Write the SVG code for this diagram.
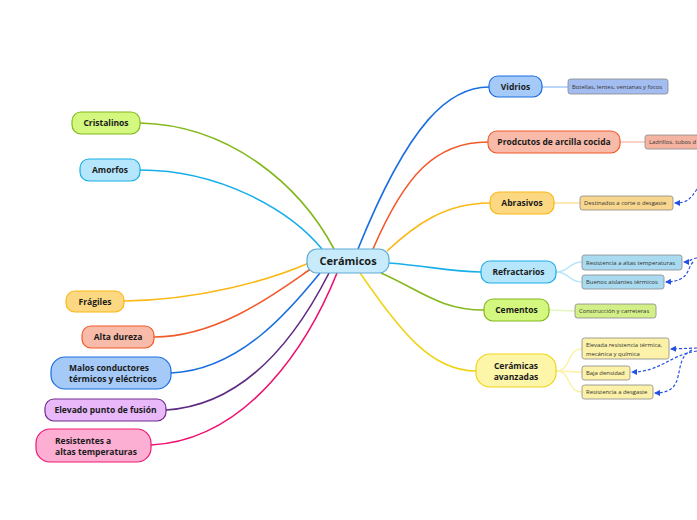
<svg xmlns="http://www.w3.org/2000/svg" width="697" height="520" viewBox="0 0 697 520">
<defs>
<style>
.lbl{font-family:"Open Sans","Noto Sans","DejaVu Sans",sans-serif;font-weight:bold;font-size:8.5px;fill:#1a1a1a;text-anchor:middle}
.lbl-l{text-anchor:start}
.sub{font-family:"Open Sans","Noto Sans","DejaVu Sans",sans-serif;font-size:5.9px;fill:#333;text-anchor:start}
.box{stroke:#888;stroke-width:0.8}
.con{fill:none;stroke-width:1.6}
.sc{fill:none;stroke-width:1.6}
.dash{fill:none;stroke:#2450e6;stroke-width:1.2;stroke-dasharray:3 2}
</style>
<marker id="arr" viewBox="0 0 6 6" refX="5" refY="3" markerWidth="5" markerHeight="5" orient="auto">
<path d="M0,0 L6,3 L0,6 z" fill="#2450e6"/>
</marker>
</defs>
<rect width="697" height="520" fill="#fff"/>
<g id="connectors">
<path class="con" stroke="#1a6fe0" d="M358,249 C410,120 450,87 489,87"/>
<path class="con" stroke="#f25a2a" d="M373,249 C405,175 435,142 488,142"/>
<path class="con" stroke="#fbb814" d="M387,251 C415,225 445,203 490,203"/>
<path class="con" stroke="#18aee8" d="M389,263 C430,266 450,272 481,272"/>
<path class="con" stroke="#84b81c" d="M381,273 C420,290 440,310 484,310"/>
<path class="con" stroke="#f0d41a" d="M360,273 C400,330 430,371 476,371"/>
<path class="con" stroke="#84b81c" d="M140,123 C230,125 300,185 334,249"/>
<path class="con" stroke="#18aee8" d="M140,170 C220,170 290,210 322,249"/>
<path class="con" stroke="#fbb814" d="M124,301 C200,300 270,280 309,263"/>
<path class="con" stroke="#f25a2a" d="M154,337 C220,337 280,290 312,268"/>
<path class="con" stroke="#1a6fe0" d="M171,373 C240,370 290,310 320,273"/>
<path class="con" stroke="#5e2a84" d="M166,410 C250,405 300,330 329,273"/>
<path class="con" stroke="#f0106e" d="M151,445 C250,440 310,340 337,273"/>
<path class="sc" stroke="#a9cdf8" d="M542,87 L568,87"/>
<path class="sc" stroke="#f9c8b8" d="M620,142 L645,142"/>
<path class="sc" stroke="#fde3a0" d="M554,203 L580,203"/>
<path class="sc" stroke="#b5e6fb" d="M556,272 C570,272 568,262 582,262"/>
<path class="sc" stroke="#b5e6fb" d="M556,272 C570,272 568,282 582,282"/>
<path class="sc" stroke="#e4f5bd" d="M549,310 L575,311"/>
<path class="sc" stroke="#fdf2a8" d="M556,371 C572,371 566,349 582,349"/>
<path class="sc" stroke="#fdf2a8" d="M556,371 C572,371 566,372 582,372"/>
<path class="sc" stroke="#fdf2a8" d="M556,371 C572,371 566,392 582,392"/>
<path class="dash" marker-end="url(#arr)" d="M697,189 C690,200 686,203 675,203"/>
<path class="dash" marker-end="url(#arr)" d="M697,258 C692,258 690,262 684,262"/>
<path class="dash" marker-end="url(#arr)" d="M693,262 C686,270 690,281 666,282"/>
<path class="dash" marker-end="url(#arr)" d="M697,348 L671,349"/>
<path class="dash" marker-end="url(#arr)" d="M697,351 C670,355 660,372 632,372"/>
<path class="dash" marker-end="url(#arr)" d="M692,350 C670,360 690,393 655,393"/>
</g>
<g id="n-ceramicos">
<rect x="307" y="249" width="82" height="24" rx="10" fill="#c8ebfb" stroke="#5fa9d6" stroke-width="1.2"/>
<text class="lbl" x="348" y="265" style="font-size:11px">Cerámicos</text>
</g>
<g id="n-vidrios">
<rect x="489" y="76" width="53" height="21" rx="9" fill="#a6caf8" stroke="#1a6fe0" stroke-width="1.2"/>
<text class="lbl" x="515.5" y="90">Vidrios</text>
</g>
<g id="n-vidrios-1">
<rect class="box" x="568" y="79" width="100" height="15" rx="2.5" fill="#a3bdf0"/>
<text class="sub" x="572" y="88.5">Botellas, lentes, ventanas y focos</text>
</g>
<g id="n-arcilla">
<rect x="488" y="131" width="132" height="22" rx="9" fill="#f8bba9" stroke="#f25a2a" stroke-width="1.2"/>
<text class="lbl" x="554" y="145">Prodcutos de arcilla cocida</text>
</g>
<g id="n-arcilla-1">
<rect class="box" x="645" y="135" width="70" height="14" rx="2.5" fill="#f5b4a2"/>
<text class="sub" x="649" y="144">Ladrillos, tubos d</text>
</g>
<g id="n-abrasivos">
<rect x="490" y="192" width="64" height="22" rx="9" fill="#fdd883" stroke="#fbb814" stroke-width="1.2"/>
<text class="lbl" x="522" y="206">Abrasivos</text>
</g>
<g id="n-abrasivos-1">
<rect class="box" x="580" y="196" width="93" height="14" rx="2.5" fill="#f8d68e"/>
<text class="sub" x="584" y="205">Destinados a corte o desgaste</text>
</g>
<g id="n-refractarios">
<rect x="481" y="261" width="75" height="22" rx="9" fill="#b5e6fb" stroke="#18aee8" stroke-width="1.2"/>
<text class="lbl" x="518.5" y="275">Refractarios</text>
</g>
<g id="n-refractarios-1">
<rect class="box" x="582" y="255" width="100" height="15" rx="2.5" fill="#a9daf0"/>
<text class="sub" x="586" y="264.5">Resistencia a altas temperaturas</text>
</g>
<g id="n-refractarios-2">
<rect class="box" x="582" y="275" width="82" height="14" rx="2.5" fill="#a9daf0"/>
<text class="sub" x="586" y="284">Buenos aislantes térmicos</text>
</g>
<g id="n-cementos">
<rect x="484" y="299" width="65" height="22" rx="9" fill="#d3f77f" stroke="#84b81c" stroke-width="1.2"/>
<text class="lbl" x="516.5" y="313">Cementos</text>
</g>
<g id="n-cementos-1">
<rect class="box" x="575" y="304" width="81" height="14" rx="2.5" fill="#d3ef88"/>
<text class="sub" x="579" y="313">Construcción y carreteras</text>
</g>
<g id="n-avanzadas">
<rect x="476" y="354" width="80" height="33" rx="14" fill="#fdf6a8" stroke="#f0d41a" stroke-width="1.2"/>
<text class="lbl" x="516" y="369">Cerámicas</text>
<text class="lbl" x="516" y="380">avanzadas</text>
</g>
<g id="n-avanzadas-1">
<rect class="box" x="582" y="338" width="87" height="21" rx="2.5" fill="#fbf1a8"/>
<text class="sub" x="586" y="346.5">Elevada resistencia térmica,</text>
<text class="sub" x="586" y="355.5">mecánica y química</text>
</g>
<g id="n-avanzadas-2">
<rect class="box" x="582" y="366" width="48" height="14" rx="2.5" fill="#fbf1a8"/>
<text class="sub" x="586" y="375">Baja densidad</text>
</g>
<g id="n-avanzadas-3">
<rect class="box" x="582" y="385" width="71" height="14" rx="2.5" fill="#fbf1a8"/>
<text class="sub" x="586" y="394">Resistencia a desgaste</text>
</g>
<g id="n-cristalinos">
<rect x="72" y="112" width="68" height="22" rx="9" fill="#d3f77f" stroke="#84b81c" stroke-width="1.2"/>
<text class="lbl" x="106" y="126">Cristalinos</text>
</g>
<g id="n-amorfos">
<rect x="80" y="159" width="60" height="22" rx="9" fill="#b5e6fb" stroke="#18aee8" stroke-width="1.2"/>
<text class="lbl" x="110" y="173">Amorfos</text>
</g>
<g id="n-fragiles">
<rect x="66" y="291" width="58" height="21" rx="9" fill="#fdd883" stroke="#fbb814" stroke-width="1.2"/>
<text class="lbl" x="95" y="305">Frágiles</text>
</g>
<g id="n-dureza">
<rect x="82" y="326" width="72" height="22" rx="9" fill="#f8bba9" stroke="#f25a2a" stroke-width="1.2"/>
<text class="lbl" x="118" y="340">Alta dureza</text>
</g>
<g id="n-malos">
<rect x="51" y="357" width="120" height="32" rx="14" fill="#a6caf8" stroke="#1a6fe0" stroke-width="1.2"/>
<text class="lbl lbl-l" x="69" y="371">Malos conductores</text>
<text class="lbl lbl-l" x="69" y="382">térmicos y eléctricos</text>
</g>
<g id="n-fusion">
<rect x="45" y="399" width="121" height="22" rx="9" fill="#e8b8f8" stroke="#6e2b8f" stroke-width="1.2"/>
<text class="lbl" x="105.5" y="413">Elevado punto de fusión</text>
</g>
<g id="n-resistentes">
<rect x="36" y="429" width="115" height="33" rx="14" fill="#fcaed3" stroke="#ef1a72" stroke-width="1.2"/>
<text class="lbl lbl-l" x="55" y="444">Resistentes a</text>
<text class="lbl lbl-l" x="55" y="455">altas temperaturas</text>
</g>
</svg>
